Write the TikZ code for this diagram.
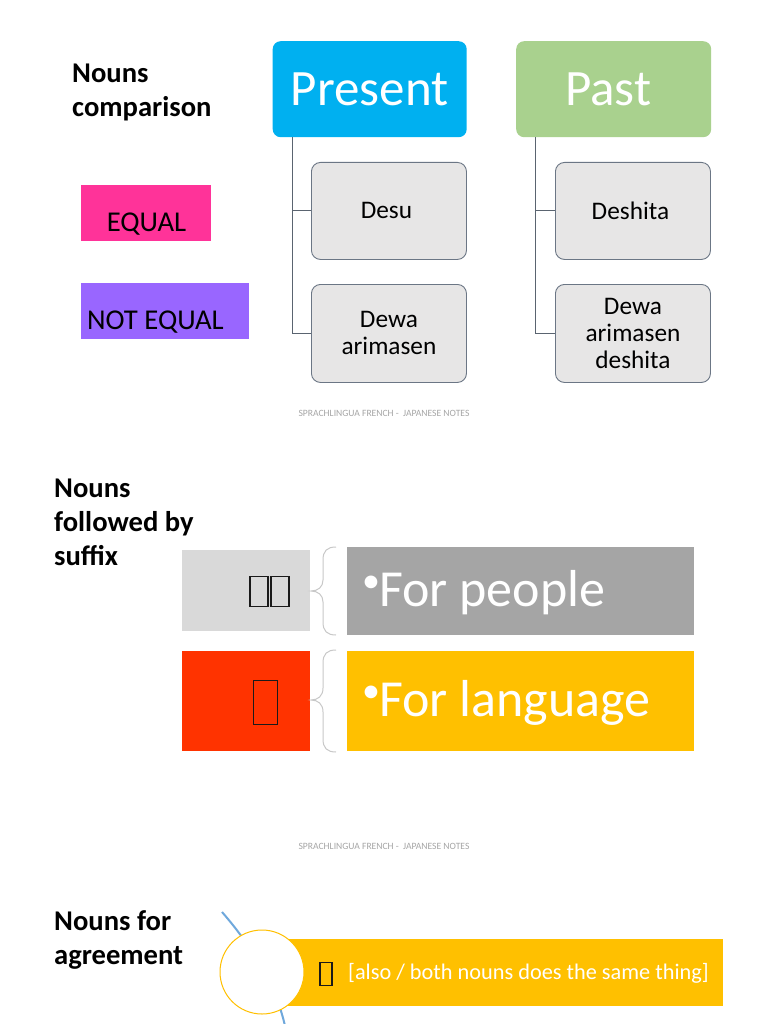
\documentclass[tikz,border=0pt]{standalone}
\usepackage{fontspec}
\setmainfont{Carlito}
\definecolor{pinkc}{HTML}{FF3399}
\definecolor{purplec}{HTML}{9966FF}
\definecolor{bluec}{HTML}{00B0F0}
\definecolor{greenc}{HTML}{A9D18E}
\definecolor{childfill}{HTML}{E7E6E6}
\definecolor{childline}{HTML}{6B7685}
\definecolor{connc}{HTML}{5A6470}
\definecolor{lgray}{HTML}{D9D9D9}
\definecolor{dgray}{HTML}{A5A5A5}
\definecolor{redc}{HTML}{FF3300}
\definecolor{yelc}{HTML}{FFC000}
\definecolor{bracec}{HTML}{C8C8C8}
\definecolor{footc}{HTML}{A6A6A6}
\definecolor{arcc}{HTML}{6FA8DC}
\definecolor{tofuc}{HTML}{1A1A1A}
\begin{document}
\begin{tikzpicture}[x=1pt,y=-1pt,
  head/.style={font=\bfseries\fontsize{28.6}{34}\selectfont, align=left, inner sep=0, anchor=north west},
  flat/.style={inner sep=0, anchor=north west},
  lbl/.style={font=\fontsize{28.7}{28.7}\selectfont, inner sep=0},
  topbox/.style={rounded corners=8pt, text=white, font=\fontsize{51}{51}\selectfont, inner sep=0, anchor=north west},
  child/.style={draw=childline, fill=childfill, rounded corners=9pt, line width=0.9pt, font=\fontsize{25.3}{27}\selectfont, align=center, inner sep=0, anchor=north west, minimum width=155, minimum height=97},
  conn/.style={draw=connc, line width=1pt},
  footer/.style={font=\fontsize{9.6}{10}\selectfont, text=footc, inner sep=0},
  tofu/.style={draw=tofuc, line width=1.6pt, inner sep=0},
  bracestroke/.style={draw=bracec, line width=1pt},
  big/.style={font=\fontsize{52}{52}\selectfont, text=white, inner sep=0, anchor=base west}
]
\useasboundingbox[fill=white] (0,0) rectangle (768,1024);

% ---------- section 1
\node[head] (h1) at (72,64) {Nouns\\comparison};
\node[flat, fill=pinkc, minimum width=130, minimum height=56] (eq) at (81,185) {};
\node[lbl] (eqt) at (146.5,224) {EQUAL};
\node[flat, fill=purplec, minimum width=168, minimum height=56] (neq) at (81,283) {};
\node[lbl, anchor=west] (neqt) at (87,322) {NOT EQUAL};

\node[topbox, fill=bluec, minimum width=194, minimum height=96] (pres) at (272.5,41) {Present};
\node[topbox, fill=greenc, minimum width=195, minimum height=96] (past) at (516,41) {Past\hspace*{11pt}};

\node[child] (desu) at (311,162) {Desu\hspace*{5pt}};
\node[child, minimum height=98] (dewa) at (311,284) {Dewa\\arimasen};
\node[child] (deshita) at (555,162) {Deshita\hspace*{5pt}};
\node[child, minimum height=98] (dewad) at (555,284) {Dewa\\arimasen\\deshita};

\draw[conn] ([xshift=19.5pt]pres.south west) |- (desu.west);
\draw[conn] ([xshift=19.5pt]pres.south west) |- (dewa.west);
\draw[conn] ([xshift=19.5pt]past.south west) |- (deshita.west);
\draw[conn] ([xshift=19.5pt]past.south west) |- (dewad.west);

\node[footer] (f1) at (384,413) {SPRACHLINGUA FRENCH -\ \ JAPANESE NOTES};

% ---------- section 2
\node[head] (h2) at (54,479) {Nouns\\followed by\\suffix};

\node[flat, fill=lgray, minimum width=128, minimum height=81] (jin) at (182,550) {};
\node[tofu, minimum width=18, minimum height=30] (ta) at (259,591.5) {};
\node[tofu, minimum width=18, minimum height=30] (tb) at (280,591.5) {};

\node[flat, fill=redc, minimum width=128, minimum height=100] (go) at (182,651) {};
\node[tofu, minimum width=24, minimum height=44] (tc) at (265.5,702.5) {};

\draw[bracestroke] (336,547) .. controls (327,547) and (323,551) .. (323,560) -- (323,580)
  .. controls (323,587) and (318,591) .. (311,591) .. controls (318,591) and (323,595) .. (323,602)
  -- (323,622) .. controls (323,631) and (327,635) .. (336,635);
\draw[bracestroke] (336,650) .. controls (327,650) and (323,654) .. (323,663) -- (323,688)
  .. controls (323,696) and (318,700) .. (311,700) .. controls (318,700) and (323,704) .. (323,712)
  -- (323,739) .. controls (323,748) and (327,752) .. (336,752);

\node[flat, fill=dgray, minimum width=347, minimum height=88] (pp) at (347,547) {};
\node[big] (ppt) at (362,606) {\raisebox{14pt}{\fontsize{36}{36}\selectfont\textbullet}\hspace{-1pt}For people};
\node[flat, fill=yelc, minimum width=347, minimum height=100] (lang) at (347,651) {};
\node[big] (langt) at (362,716) {\raisebox{14pt}{\fontsize{36}{36}\selectfont\textbullet}\hspace{-1pt}For language};

\node[footer] (f2) at (384,846) {SPRACHLINGUA FRENCH -\ \ JAPANESE NOTES};

% ---------- section 3
\node[head] (h3) at (54,910) {Nouns for\\agreement};
\draw[draw=arcc, line width=2pt] (222,912) .. controls (256,951) and (277,990) .. (285,1026);
\node[flat, fill=yelc, minimum width=436, minimum height=67] (agr) at (287,939) {};
\node[circle, draw=yelc, fill=white, line width=1pt, minimum size=84, inner sep=0] (circ) at (262,972) {};
\node[tofu, minimum width=12, minimum height=23, line width=1.3pt] (td) at (326,974) {};
\node[inner sep=0, anchor=west, text=white, font=\fontsize{22.3}{22.3}\selectfont] (agt) at (348,973) {[also / both nouns does the same thing]};
\end{tikzpicture}
\end{document}
